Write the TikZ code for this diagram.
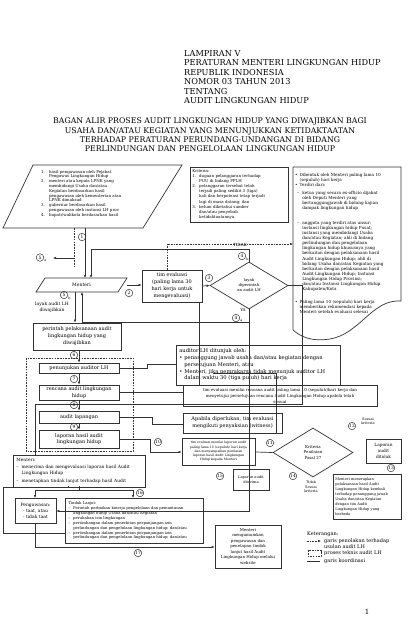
\documentclass[tikz,border=0pt]{standalone}
\usepackage{fontspec}
\setmainfont{DejaVu Serif}
\usetikzlibrary{arrows.meta,shapes.geometric,calc}
\newcommand{\fsz}[2]{\fontsize{#1}{#2}\selectfont}
\begin{document}
\begin{tikzpicture}[x=1pt,y=-1pt,
  ln/.style={draw=black!80, line width=0.7pt},
  bx/.style={draw=black!80, line width=0.7pt, inner sep=1pt, align=center},
  tip/.style={-{Latex[length=3pt,width=2.6pt]}},
  cn/.style={draw=black!80, circle, line width=0.5pt, inner sep=0pt, minimum size=7.5pt, font=\fsz{4.4}{5}},
  sb/.style={inner sep=0pt, font=\fsz{3.4}{4}},
  dsh/.style={dash pattern=on 1.6pt off 1.1pt},
  tx/.style={inner sep=0pt, align=left}]
\useasboundingbox (0,0) rectangle (419,640);
\fill[white] (0,0) rectangle (419,640);

% header
\node[tx, anchor=north west, font=\fsz{8.2}{9.45}] (hdr) at (184,50.3) {LAMPIRAN V\\PERATURAN MENTERI LINGKUNGAN HIDUP\\REPUBLIK INDONESIA\\NOMOR 03 TAHUN 2013\\TENTANG\\AUDIT LINGKUNGAN HIDUP};
\node[inner sep=0pt, align=center, anchor=north, font=\fsz{7.8}{9.45}] (ttl) at (210,117.6) {BAGAN ALIR PROSES AUDIT LINGKUNGAN HIDUP YANG DIWAJIBKAN BAGI\\USAHA DAN/ATAU KEGIATAN YANG MENUNJUKKAN KETIDAKTAATAN\\TERHADAP PERATURAN PERUNDANG-UNDANGAN DI BIDANG\\PERLINDUNGAN DAN PENGELOLAAN LINGKUNGAN HIDUP};

% input parallelogram
\draw[ln] (33,165) -- (182,165) -- (143,228) -- (3,228) -- cycle;
\node[tx, anchor=north west, font=\fsz{4}{4.8}] (inp) at (41,169.6) {\begin{tabular}{@{}l@{\hspace{4pt}}l@{}}
1.&hasil pengawasan oleh Pejabat\\
&Pengawas Lingkungan Hidup\\
2.&menteri atau kepala LPNK yang\\
&membidangi Usaha dan/atau\\
&Kegiatan berdasarkan hasil\\
&pengawasan oleh kementerian atau\\
&LPNK dimaksud\\
3.&gubernur berdasarkan hasil\\
&pengawasan oleh instansi LH prov\\
4.&bupati/walikota berdasarkan hasil\end{tabular}};
\coordinate (inpB1) at (85,228);
\coordinate (inpB2) at (74,228);

% kriteria box
\node[bx, anchor=north west, minimum width=98, minimum height=55, text width=94, align=left, inner sep=2pt, font=\fsz{4}{5.2}] (krit) at (190,167) {Kriteria:\\\begin{tabular}{@{}l@{\hspace{3pt}}l@{}}
1.&dugaan pelanggaran terhadap\\
&PUU di bidang PPLH\\
2.&pelanggaran tersebut telah\\
&terjadi paling sedikit 3 (tiga)\\
&kali dan berpotensi tetap terjadi\\
&lagi di masa datang; dan\\
3.&belum diketahui sumber\\
&dan/atau penyebab\\
&ketidaktaatannya.\end{tabular}};

% right document shape
\draw[ln] (293,330) -- (293,167) -- (401,167) -- (401,301) .. controls (372,299) and (360,334) .. (330,339) .. controls (310,342) and (300,336) .. (293,330);
\coordinate (rdW) at (293,244);
\node[tx, anchor=north west, font=\fsz{4.2}{5.1}] (rd1) at (295,172.6) {\begin{tabular}{@{}l@{\hspace{2pt}}l@{}}•&Dibentuk oleh Menteri paling lama 10\\&(sepuluh) hari kerja\\•&Terdiri dari:\end{tabular}};
\node[tx, anchor=north west, font=\fsz{4.2}{5.1}] (rd2) at (297,190.6) {\begin{tabular}{@{}l@{\hspace{3pt}}l@{}}–&ketua yang secara ex-officio dijabat\\&oleh Deputi Menteri yang\\&bertanggungjawab di bidang kajian\\&dampak lingkungan hidup\end{tabular}};
\node[tx, anchor=north west, font=\fsz{4.2}{5.1}] (rd3) at (297,220.6) {\begin{tabular}{@{}l@{\hspace{3pt}}l@{}}–&anggota yang terdiri atas unsur:\\&instansi lingkungan hidup Pusat;\\&instansi yang membidangi Usaha\\&dan/atau Kegiatan; ahli di bidang\\&perlindungan dan pengelolaan\\&lingkungan hidup khususnya yang\\&berkaitan dengan pelaksanaan hasil\\&Audit Lingkungan Hidup; ahli di\\&bidang Usaha dan/atau Kegiatan yang\\&berkaitan dengan pelaksanaan hasil\\&Audit Lingkungan Hidup; Instansi\\&Lingkungan Hidup Provinsi;\\&dan/atau Instansi Lingkungan Hidup\\&Kabupaten/Kota\end{tabular}};
\node[tx, anchor=north west, font=\fsz{4.2}{5.1}] (rd4) at (295,299.3) {\begin{tabular}{@{}l@{\hspace{2pt}}l@{}}•&Paling lama 10 (sepuluh) hari kerja\\&memberikan rekomendasi kepada\\&Menteri setelah evaluasi selesai\end{tabular}};

% Menteri parallelogram
\draw[ln] (45,278) -- (127,278) -- (118,292) -- (36,292) -- cycle;
\node[inner sep=0pt, font=\fsz{4.6}{5}] (ment) at (81.5,285) {Menteri};
\coordinate (mT1) at (85,278);
\coordinate (mT2) at (91,278);
\coordinate (mB1) at (75,292);
\coordinate (mB2) at (82,292);
\coordinate (mR) at (127,285);

% tim evaluasi
\node[bx, minimum width=60, minimum height=32, font=\fsz{5}{7}] (tev) at (172,286) {tim evaluasi\\(paling lama 30\\hari kerja untuk\\mengevaluasi)};

% diamond 1
\node[draw=black!80, line width=0.7pt, diamond, minimum width=78, minimum height=47, inner sep=0pt, align=center, font=\fsz{3.9}{5}] (d1) at (249,285.5) {layak\\diperintah\\an audit LH};

% perintah
\node[bx, minimum width=88, minimum height=27, font=\fsz{5}{7}] (prt) at (77,336.5) {perintah pelaksanaan audit\\lingkungan hidup yang\\diwajibkan};

% dashed technical process frame
\draw[ln, dsh] (26,358) rectangle (133,451);

\node[bx, minimum width=80, minimum height=10, font=\fsz{5}{6}] (pen) at (79,368) {penunjukan auditor LH};
\node[bx, minimum width=80, minimum height=15, font=\fsz{5}{6.3}] (ren) at (79,392.5) {rencana audit lingkungan\\hidup};
\node[bx, minimum width=80, minimum height=12, font=\fsz{5}{6}] (lap) at (79,417) {audit lapangan};
\node[bx, minimum width=80, minimum height=18, font=\fsz{5}{6.5}] (lhs) at (79,439) {laporan hasil audit\\lingkungan hidup};

% auditor box
\node[bx, anchor=north west, minimum width=164, minimum height=38, text width=158, align=left, inner sep=3pt, font=\fsz{5.2}{6.9}] (aud) at (176,345) {auditor LH ditunjuk oleh:\\\begin{tabular}{@{}l@{\hspace{2pt}}l@{}}•&penanggung jawab usaha dan/atau kegiatan dengan\\&persetujuan Menteri, atau\\•&Menteri, jika pemrakarsa tidak menunjuk auditor LH\\&dalam waktu 30 (tiga puluh) hari kerja\end{tabular}};

\node[bx, minimum width=194, minimum height=21, font=\fsz{4.1}{6.3}] (evr) at (280,396) {tim evaluasi menilai rencana audit paling lama 10 (sepuluh)hari kerja dan\\menyetujui persetujuan rencana Audit Lingkungan Hidup apabila telah\\sesuai};

\node[bx, minimum width=99, minimum height=20, font=\fsz{5}{7}] (apb) at (232.5,423) {Apabila diperlukan, tim evaluasi\\mengikuti penyaksian (witness)};

\node[bx, minimum width=73, minimum height=27, font=\fsz{3.2}{4.3}] (evl) at (218.5,451.5) {tim evaluasi menilai laporan audit\\paling lama 10 (sepuluh) hari kerja\\dan menyampaikan penilaian\\laporan hasil Audit Lingkungan\\Hidup kepada Menteri};

\node[draw=black!80, line width=0.7pt, diamond, minimum width=80, minimum height=49, inner sep=0pt, align=center, font=\fsz{4}{5.5}] (d2) at (313,452.5) {Kriteria\\Penilaian\\Pasal 27};

\node[bx, minimum width=35, minimum height=24, font=\fsz{4.3}{5.8}] (dtl) at (383.5,451) {Laporan\\audit\\ditolak};
\node[bx, minimum width=36, minimum height=21, font=\fsz{3.6}{5}] (dtr) at (251,479.5) {Laporan audit\\diterima};
\node[bx, anchor=north west, minimum width=68, minimum height=45, text width=64, align=left, inner sep=2pt, font=\fsz{3.6}{5}] (mnp) at (333,474) {Menteri menerapkan\\pelaksanaan hasil Audit\\Lingkungan Hidup kembali\\terhadap penanggung jawab\\Usaha dan/atau Kegiatan\\dengan tim Audit\\Lingkungan Hidup yang\\berbeda};

\node[tx, align=center, font=\fsz{3.5}{4.5}] (lsk) at (368,421) {Sesuai\\kriteria};
\node[tx, align=center, font=\fsz{3.5}{4.5}] (ltk) at (311,487) {Tidak\\Sesuai\\kriteria};

% Menteri box
\node[bx, anchor=north west, minimum width=132, minimum height=31, text width=126, align=left, inner sep=3pt, font=\fsz{4.4}{5.4}] (mbox) at (13,455) {Menteri:\\[2.5pt]\begin{tabular}{@{}l@{\hspace{3pt}}l@{}}–&menerima dan mengevaluasi laporan hasil Audit\\&Lingkungan Hidup\\[2.5pt]–&menetapkan tindak lanjut terhadap hasil Audit\end{tabular}};

\node[bx, minimum width=41, minimum height=25, font=\fsz{4.5}{6}] (peng) at (35.5,510.5) {Pengawasan:\\- taat, atau\\- tidak taat};

\node[bx, anchor=north west, minimum width=138, minimum height=45, text width=132, align=left, inner sep=3pt, font=\fsz{3.8}{4.9}] (tl) at (65,498) {Tindak Lanjut:\\\begin{tabular}{@{}l@{\hspace{3pt}}l@{}}–&Perintah perbaikan kinerja pengelolaan dan pemantauan\\&lingkungan hidup Usaha dan/atau Kegiatan\\–&perubahan izin lingkungan\\–&pertimbangan dalam penerbitan perpanjangan izin\\&perlindungan dan pengelolaan lingkungan hidup; dan/atau\\–&pertimbangan dalam penerbitan perpanjangan izin\\&perlindungan dan pengelolaan lingkungan hidup; dan/atau\end{tabular}};

\node[bx, minimum width=66, minimum height=43, font=\fsz{4}{5.5}] (mum) at (248,546.5) {Menteri\\mengumumkan\\pengawasan dan\\penetapan tindak\\lanjut hasil Audit\\Lingkungan Hidup melalui\\website};

% circled numbers
\node[cn] (n1) at (82,237) {1};
\node[cn] (n5a) at (40,257.5) {5}; \node[sb] at (45.5,260.5) {a};
\node[cn] (n2) at (129,293) {2};
\node[cn] (n3) at (209,278) {3};
\node[cn] (n4b) at (242,256) {4}; \node[sb] at (247.5,259) {b};
\node[cn] (n4a) at (236,318) {4}; \node[sb] at (241.5,321) {a};
\node[cn] (n5b) at (64,295) {5}; \node[sb] at (69.5,298) {b};
\node[cn] (n6) at (74,355) {6};
\node[cn] (n7) at (74,379) {7};
\node[cn] (n8) at (74,405) {8};
\node[cn] (n9) at (74,427) {9};
\node[cn] (n10) at (158,442) {10};
\node[cn] (n11) at (270,443) {11};
\node[cn] (n12) at (352,426) {12};
\node[cn] (n13) at (391,468) {13};
\node[cn] (n14) at (293,476) {14};
\node[cn] (n15) at (220,476) {15};
\node[cn] (n16) at (140,493) {16};
\node[cn] (n17) at (138,553) {17};

\node[tx, font=\fsz{4.2}{5}] (ltd) at (240,245) {TIDAK};
\node[tx, font=\fsz{4.2}{5}] (lya) at (243,310) {YA};
\node[tx, align=center, font=\fsz{4.5}{6}] (llk) at (52,307) {layak audit LH\\diwajibkan};

% connectors
\draw[ln, tip] (inpB1) -- (mT1);
\draw[ln, dsh] (inpB2) -- (74,266);
\draw[ln, tip] (74,258) -- (53,258);
\draw[ln, tip] (mR) -- (mR -| tev.west);
\draw[ln, tip] (tev.east) -- (d1.west);
\draw[ln, dsh, tip] ($(tev.north)+(-5,0)$) |- (rdW);
\draw[ln, tip] (d1.north) |- (91,249) -- (mT2);
\draw[ln, tip] (d1.south) |- (82,322) -- (mB2);
\draw[ln, tip] (mB1) -- (mB1 |- prt.north);
\draw[ln, tip] (prt.south -| pen.north) -- (pen.north);
\draw[ln, tip] (pen.south) -- (ren.north);
\draw[ln, tip] (ren.south) -- (lap.north);
\draw[ln, tip] (lap.south) -- (lhs.north);
\draw[ln, tip] (lhs.east) -- (150,439) -- (150,452) -- (evl.west |- 0,452);
\draw[ln] (pen.east) -- (147,368) -- (147,364) -- (aud.west |- 0,364);
\draw[ln] (ren.east) -- (ren.east -| evr.west);
\draw[ln] (lap.east) -- (152,417) -- (152,424) -- (apb.west |- 0,424);
\draw[ln] ($(tev.south)+(27,0)$) -- (199,385);
\draw[ln] (d1.east) -| (302,404) -- (35,404) -- (35,455);
\draw[ln] (213,373.5) -- (276,373.5) -- (276,433);
\draw[ln] (evl.east |- 0,452) -- (d2.west);
\draw[ln, tip] (d1.south) -- (249,511) -- (peng.east |- 0,511);
\draw[ln] (68,486) |- (3,487.5) -- (3,533) -- (65,533);
\draw[ln] (79,486) -- (79,490);
\draw[ln, tip] (35,490) -- (133,490) -- (133,498);
\draw[ln, tip] (35,490) -- (35,498);
\draw[ln, tip] (peng.south) |- (mum.west |- 0,547);

% legend
\node[tx, anchor=west, font=\fsz{5}{6}] (ket) at (307,534) {Keterangan:};
\draw[ln, dsh, tip] (307,541) -- (321,541);
\node[tx, anchor=north west, font=\fsz{5}{6}] (k1) at (324,538.3) {garis penolakan terhadap\\usulan audit LH};
\draw[ln, dsh] (308,550.5) rectangle (321,556.5);
\node[tx, anchor=west, font=\fsz{5}{6}] (k2) at (324,553.5) {proses teknis audit LH};
\draw[ln] (307,561.5) -- (320,561.5);
\node[tx, anchor=west, font=\fsz{5}{6}] (k3) at (324,561) {garis koordinasi};

\node[inner sep=0pt, font=\fsz{7}{8}] (pg) at (367,612) {1};
\end{tikzpicture}
\end{document}
